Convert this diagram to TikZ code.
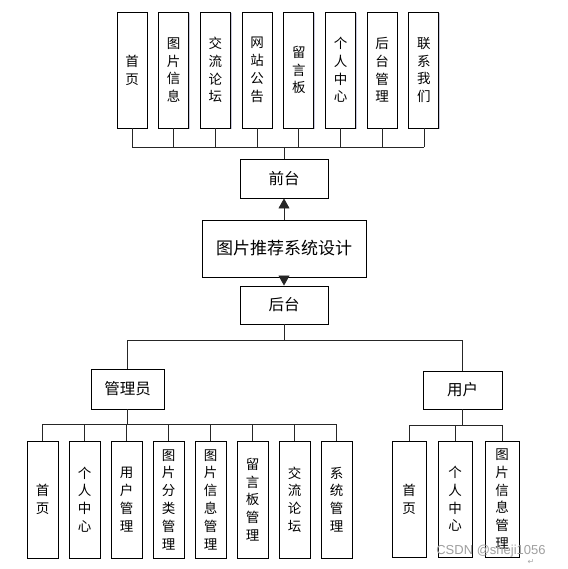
\documentclass[tikz,border=0pt]{standalone}
\usepackage{fontspec}
\newfontfamily\cjk{Noto Sans CJK SC}
\newfontfamily\wmfont{Liberation Sans}
\newfontfamily\symfont{DejaVu Sans}
\usetikzlibrary{arrows.meta,shadows}
\tikzset{
  box/.style={draw=black, line width=0.9pt, fill=white, rectangle, inner sep=0pt,
    drop shadow={shadow xshift=1.2pt, shadow yshift=-1.2pt, fill=blue!25!gray, opacity=0.35}},
  vbox/.style={box, minimum width=30pt, minimum height=116pt, align=center,
    font=\cjk\fontsize{13.5}{17.8}\selectfont},
  hbox/.style={box, font=\cjk\fontsize{15.5}{18}\selectfont},
  conn/.style={draw=black!85, line width=0.8pt},
  arr/.style={conn, -{Triangle[length=10pt,width=11pt]}},
}
\begin{document}
\begin{tikzpicture}[x=1pt,y=-1pt]
\useasboundingbox (0,0) rectangle (567,569);
% top level
\foreach \t [count=\i from 0] in {首\\页,图\\片\\信\\息,交\\流\\论\\坛,网\\站\\公\\告,留\\言\\板,个\\人\\中\\心,后\\台\\管\\理,联\\系\\我\\们}{
  \node[vbox] (t\i) at ({132+41.7*\i},70) {\t};
}
\node[hbox, minimum width=88pt, minimum height=39pt] (qt) at (284,178.5) {前台};
\node[box, minimum width=164pt, minimum height=57pt, font=\cjk\fontsize{17}{20}\selectfont] (main) at (284,248.5) {图片推荐系统设计};
\node[hbox, minimum width=88pt, minimum height=38pt] (ht) at (284,305) {后台};
\node[hbox, minimum width=73pt, minimum height=40pt] (gly) at (127.5,389) {管理员};
\node[hbox, minimum width=79pt, minimum height=38pt] (yh) at (462.5,390) {用户};
% admin children
\foreach \t [count=\i from 0] in {首\\页,个\\人\\中\\心,用\\户\\管\\理,图\\片\\分\\类\\管\\理,图\\片\\信\\息\\管\\理,留\\言\\板\\管\\理,交\\流\\论\\坛,系\\统\\管\\理}{
  \node[vbox, minimum width=31pt, minimum height=117pt] (a\i) at ({42.5+42*\i},499.5) {\t};
}
% user children
\foreach \t/\x [count=\i from 0] in {首\\页/409,个\\人\\中\\心/455,图\\片\\信\\息\\管\\理/502}{
  \node[vbox, minimum width=34pt, minimum height=116pt] (u\i) at (\x,499) {\t};
}
% connectors
\coordinate (bt) at (284,147);
\coordinate (bm) at (284,340);
\coordinate (ba) at (127.5,424);
\coordinate (bu) at (462.5,425);
\foreach \i in {0,...,7}{ \draw[conn] (t\i.south) -- (t\i.south |- bt); }
\draw[conn] (t0.south |- bt) -- (t7.south |- bt);
\draw[conn] (qt.north) -- (bt);
\draw[arr] (main.north) -- (qt.south);
\draw[arr] (main.south) -- (ht.north);
\draw[conn] (ht.south) -- (bm);
\draw[conn] (gly.north) -- (gly.north |- bm) -- (yh.north |- bm) -- (yh.north);
\draw[conn] (gly.south) -- (ba);
\foreach \i in {0,...,7}{ \draw[conn] (a\i.north) -- (a\i.north |- ba); }
\draw[conn] (a0.north |- ba) -- (a7.north |- ba);
\draw[conn] (yh.south) -- (bu);
\foreach \i in {0,...,2}{ \draw[conn] (u\i.north) -- (u\i.north |- bu); }
\draw[conn] (u0.north |- bu) -- (u2.north |- bu);
% watermark
\node[text=gray!75, font=\wmfont\fontsize{13}{14}\selectfont, inner sep=0pt] (wm) at (491,551) {CSDN @sheji1056};
\node[text=gray!70, font=\symfont\fontsize{8}{9}\selectfont, inner sep=0pt] (pm) at (531,562) {↵};
\end{tikzpicture}
\end{document}
